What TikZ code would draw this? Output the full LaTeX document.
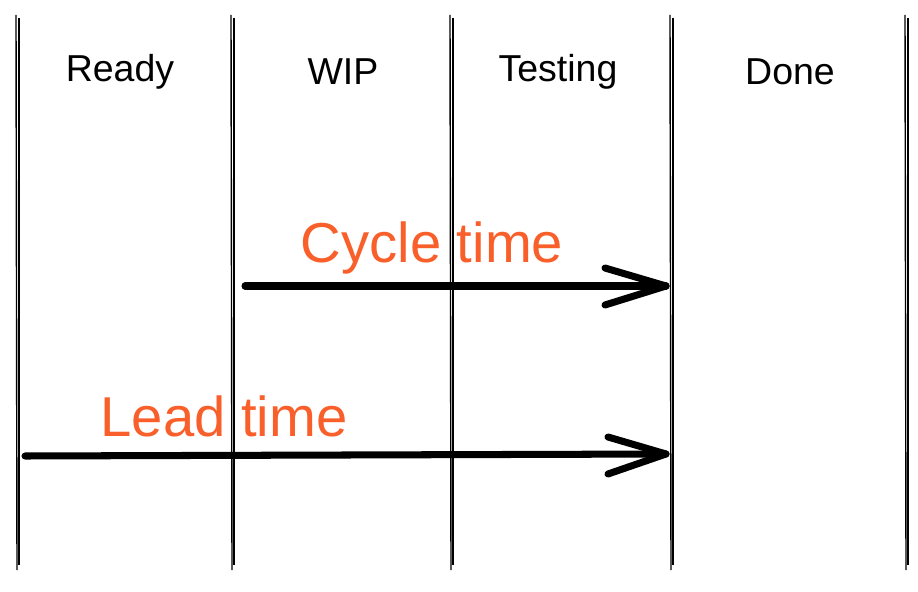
\documentclass[tikz,border=0pt]{standalone}
\usepackage{fontspec}
\setmainfont{Liberation Sans}
\definecolor{accent}{HTML}{F95F2A}
\begin{document}
\begin{tikzpicture}[x=0.03cm,y=-0.03cm,
  lane/.style={line width=1.2pt,black},
  head/.style={font=\fontsize{32}{36}\selectfont,text=black},
  metric/.style={font=\fontsize{48}{52}\selectfont,text=accent},
  flow/.style={line width=6pt,black,line cap=round,line join=round}]
\useasboundingbox (0,0) rectangle (918,592);
\foreach \x/\n in {16/a,231/b,450/c,670/d,905/e}{
  \draw[lane] (\x,15) -- (\x+1,570);
  \draw[lane] (\x+3,18) -- (\x+3,565);
}
\node[head] (ready) at (120,72) {Ready};
\node[head] (wip) at (343,72) {WIP};
\node[head] (testing) at (558,72) {Testing};
\node[head] (done) at (790,72) {Done};
\node[metric] (cycle) at (432,248) {Cycle time};
\node[metric] (lead) at (224,416) {Lead time};
\coordinate (cs) at (245,286);
\coordinate (ce) at (666,286);
\coordinate (ls) at (25,456);
\coordinate (le) at (666,454);
\draw[flow] (cs) -- (ce);
\draw[flow] (605,268) -- (ce) -- (605,305);
\draw[flow] (ls) -- (le);
\draw[flow] (608,437) -- (le) -- (608,474);
\end{tikzpicture}
\end{document}
